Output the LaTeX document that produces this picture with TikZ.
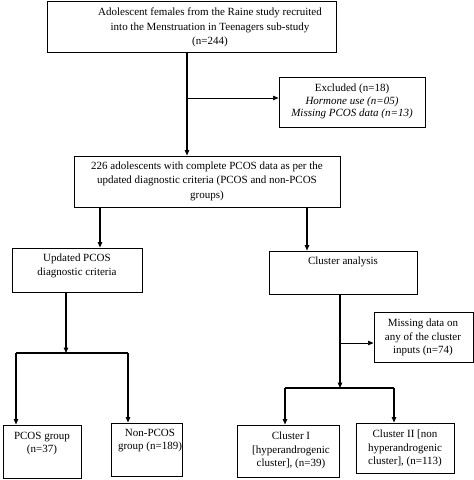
\documentclass[tikz,border=0pt]{standalone}
\usepackage{fontspec}
\setmainfont{Liberation Serif}
\usetikzlibrary{fit,arrows.meta,calc}
\begin{document}
\begin{tikzpicture}[x=1pt,y=-1pt,
 box/.style={draw, line width=1pt, inner sep=0pt},
 txt/.style={align=center, font=\fontsize{11}{13.5}\selectfont, inner sep=0pt},
 arr/.style={line width=1.1pt, -{Triangle[length=5.5pt,width=4.5pt]}},
 ln/.style={line width=1.1pt},
 thinarr/.style={line width=0.7pt, -{Triangle[length=5.5pt,width=4.5pt]}}]
\useasboundingbox[fill=white] (0,0) rectangle (474,480);
% boxes
\node[box, fit={(47,1) (336,52)}] (top) {};
\node[box, fit={(279,77) (425,127)}] (excl) {};
\node[box, fit={(74,156) (340,207)}] (mid) {};
\node[box, fit={(12,248) (142,292)}] (upd) {};
\node[box, fit={(269,251) (417,294)}] (clus) {};
\node[box, fit={(374,312) (473,362)}] (miss) {};
\node[box, fit={(3,425) (81,478)}] (pcos) {};
\node[box, fit={(111,423) (182,476)}] (npcos) {};
\node[box, fit={(237,425) (339,477)}] (c1) {};
\node[box, fit={(356,423) (454,473)}] (c2) {};
% texts
\node[txt, font=\fontsize{11}{14.5}\selectfont] (topt) at (210,27.5) {Adolescent females from the Raine study recruited\\into the Menstruation in Teenagers sub-study\\(n=244)};
\node[txt, font=\fontsize{11}{12.5}\selectfont] (exclt) at (352,101.5) {Excluded (n=18)\\\textit{Hormone use (n=05)}\\\textit{Missing PCOS data (n=13)}};
\node[txt, font=\fontsize{11}{14.5}\selectfont] (midt) at (207,181) {226 adolescents with complete PCOS data as per the\\updated diagnostic criteria (PCOS and non-PCOS\\groups)};
\node[txt] (updt) at (77,266) {Updated PCOS\\diagnostic criteria};
\node[txt] (clust) at (343,262) {Cluster analysis};
\node[txt] (misst) at (423,337.5) {Missing data on\\any of the cluster\\inputs (n=74)};
\node[txt] (pcost) at (42,443.5) {PCOS group\\(n=37)};
\node[txt] (npcost) at (150,440.5) {Non-PCOS\\group (n=189)};
\node[txt] (c1t) at (291,450.5) {Cluster I\\{[}hyperandrogenic\\cluster], (n=39)};
\node[txt] (c2t) at (405,448.5) {Cluster II [non\\hyperandrogenic\\cluster], (n=113)};
% coordinates
\coordinate (xa) at (187,0);
\coordinate (eb) at (187,98);
\coordinate (xl) at (100,0);
\coordinate (xr) at (307,0);
\coordinate (jl) at (66,353);
\coordinate (jl1) at (16,353);
\coordinate (jl2) at (128,353);
\coordinate (jr) at (340,388);
\coordinate (jr1) at (285,388);
\coordinate (jr2) at (394,388);
\coordinate (mb) at (340,343);
% connectors
\draw[arr] (top.south -| xa) -- (mid.north -| xa);
\draw[thinarr] (eb) -- (eb -| excl.west);
\draw[arr] (mid.south -| xl) -- (upd.north -| xl);
\draw[arr] (mid.south -| xr) -- (clus.north -| xr);
\draw[arr] (upd.south -| jl) -- (jl);
\draw[ln] (jl1) -- (jl2);
\draw[arr] (jl1) -- (pcos.north -| jl1);
\draw[arr] (jl2) -- (npcos.north -| jl2);
\draw[arr] (clus.south -| jr) -- (jr);
\draw[thinarr] (mb) -- (mb -| miss.west);
\draw[ln] (jr1) -- (jr2);
\draw[arr] (jr1) -- (c1.north -| jr1);
\draw[arr] (jr2) -- (c2.north -| jr2);
\end{tikzpicture}
\end{document}
